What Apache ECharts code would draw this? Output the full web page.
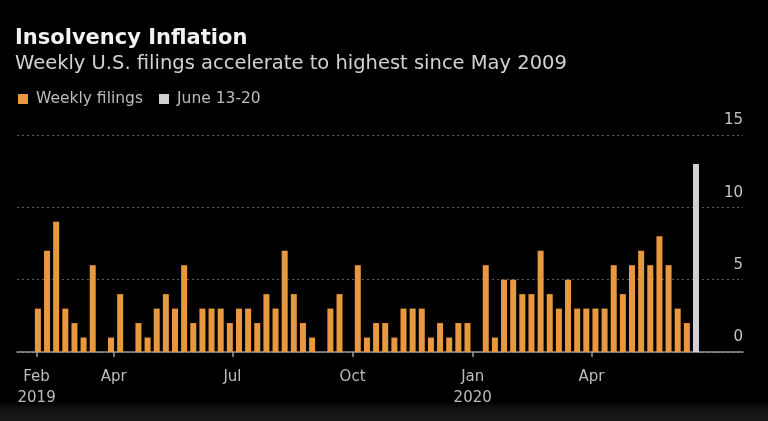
<!DOCTYPE html>
<html>
<head>
<meta charset="utf-8">
<title>Insolvency Inflation</title>
<script src="https://cdn.jsdelivr.net/npm/echarts@6/dist/echarts.min.js"></script>
<style>
  html, body { margin: 0; padding: 0; background: #000; }
  #chart { width: 768px; height: 421px; }
</style>
</head>
<body>
<div id="chart"></div>
<script>
// week ending dates (Saturdays)
const weeks = [
  "2019-02-02", "2019-02-09", "2019-02-16", "2019-02-23",
  "2019-03-02", "2019-03-09", "2019-03-16", "2019-03-23", "2019-03-30",
  "2019-04-06", "2019-04-13", "2019-04-20", "2019-04-27",
  "2019-05-04", "2019-05-11", "2019-05-18", "2019-05-25",
  "2019-06-01", "2019-06-08", "2019-06-15", "2019-06-22", "2019-06-29",
  "2019-07-06", "2019-07-13", "2019-07-20", "2019-07-27",
  "2019-08-03", "2019-08-10", "2019-08-17", "2019-08-24", "2019-08-31",
  "2019-09-07", "2019-09-14", "2019-09-21", "2019-09-28",
  "2019-10-05", "2019-10-12", "2019-10-19", "2019-10-26",
  "2019-11-02", "2019-11-09", "2019-11-16", "2019-11-23", "2019-11-30",
  "2019-12-07", "2019-12-14", "2019-12-21", "2019-12-28",
  "2020-01-04", "2020-01-11", "2020-01-18", "2020-01-25",
  "2020-02-01", "2020-02-08", "2020-02-15", "2020-02-22", "2020-02-29",
  "2020-03-07", "2020-03-14", "2020-03-21", "2020-03-28",
  "2020-04-04", "2020-04-11", "2020-04-18", "2020-04-25",
  "2020-05-02", "2020-05-09", "2020-05-16", "2020-05-23", "2020-05-30",
  "2020-06-06", "2020-06-13"
];
const filings = [
  3, 7, 9, 3, 2, 1, 6, 0, 1, 4,
  0, 2, 1, 3, 4, 3, 6, 2, 3, 3,
  3, 2, 3, 3, 2, 4, 3, 7, 4, 2,
  1, 0, 3, 4, 0, 6, 1, 2, 2, 1,
  3, 3, 3, 1, 2, 1, 2, 2, 0, 6,
  1, 5, 5, 4, 4, 7, 4, 3, 5, 3,
  3, 3, 3, 6, 4, 6, 7, 6, 8, 6,
  3, 2
];
const latestWeek = "2020-06-20";
const latestFilings = 13;

const tickDates = ["2019-02-01", "2019-04-01", "2019-07-01", "2019-10-01", "2020-01-01", "2020-04-01"];
const tickLabels = ["Feb\n2019", "Apr", "Jul", "Oct", "Jan\n2020", "Apr"];

const font = "DejaVu Sans";
let toTime = s => echarts.number.parseDate(s).getTime();
let tickTimes = tickDates.map(toTime);
let axisMin = toTime("2019-01-17");
let axisMax = toTime("2020-07-26");
// the first and last custom ticks get dropped, so pad both ends
let tickValues = [tickTimes[0]].concat(tickTimes, [tickTimes[tickTimes.length - 1]]);
let labelValues = [axisMin].concat(tickTimes, [axisMax]);

let chart = echarts.init(document.getElementById("chart"), null, { renderer: "canvas" });

let option = {
  backgroundColor: new echarts.graphic.LinearGradient(0, 0, 0, 1, [
    { offset: 0, color: "#000" },
    { offset: 0.955, color: "#000" },
    { offset: 0.97, color: "#121212" },
    { offset: 1, color: "#1a1a1a" }
  ]),
  animation: false,
  textStyle: { fontFamily: font },
  title: [
    {
      text: "Insolvency Inflation",
      left: 15,
      top: 28,
      padding: 0,
      textStyle: { color: "#f2f2f2", fontSize: 21, fontWeight: "bold", fontFamily: font }
    },
    {
      text: "Weekly U.S. filings accelerate to highest since May 2009",
      left: 15,
      top: 54,
      padding: 0,
      textStyle: { color: "#d2d2d2", fontSize: 19.5, fontWeight: "normal", fontFamily: font }
    }
  ],
  legend: {
    left: 18,
    top: 91,
    padding: 0,
    icon: "rect",
    itemWidth: 10,
    itemHeight: 10,
    itemGap: 16,
    textStyle: { color: "#bcbcbc", fontSize: 15.5, fontFamily: font, padding: [0, 0, 0, 3] },
    data: ["Weekly filings", "June 13-20"]
  },
  grid: {
    left: 17,
    right: 25,
    top: 135,
    bottom: 69,
    containLabel: false,
    outerBoundsMode: "none"
  },
  xAxis: {
    type: "value",
    min: axisMin,
    max: axisMax,
    axisLine: { show: true, lineStyle: { color: "#999", width: 1.5 } },
    axisTick: {
      show: true,
      customValues: tickValues,
      length: 5,
      lineStyle: { color: "#999", width: 1.5 }
    },
    axisLabel: {
      customValues: labelValues,
      color: "#bcbcbc",
      fontSize: 15,
      lineHeight: 21,
      margin: 15,
      fontFamily: font,
      hideOverlap: false,
      formatter: function(value) {
        let i = tickTimes.indexOf(value);
        return i >= 0 ? tickLabels[i] : "";
      }
    },
    splitLine: { show: false }
  },
  yAxis: {
    type: "value",
    position: "right",
    min: 0,
    max: 15,
    interval: 5,
    axisLine: { show: false },
    axisTick: { show: false },
    axisLabel: {
      inside: true,
      margin: 0,
      align: "right",
      verticalAlign: "bottom",
      padding: [0, 0, 7, 0],
      color: "#c4c4c4",
      fontSize: 15,
      fontFamily: font
    },
    splitLine: { lineStyle: { color: "#5c5c5c", type: [2, 3], width: 1 } }
  },
  series: [
    {
      name: "Weekly filings",
      type: "bar",
      barWidth: 6,
      barGap: "-100%",
      itemStyle: { color: "#e8983f" },
      data: weeks.map((w, i) => [toTime(w), filings[i]])
    },
    {
      name: "June 13-20",
      type: "bar",
      barWidth: 6,
      barGap: "-100%",
      itemStyle: { color: "#d0d0d0" },
      data: [[toTime(latestWeek), latestFilings]]
    }
  ]
};
chart.setOption(option);
</script>
</body>
</html>
